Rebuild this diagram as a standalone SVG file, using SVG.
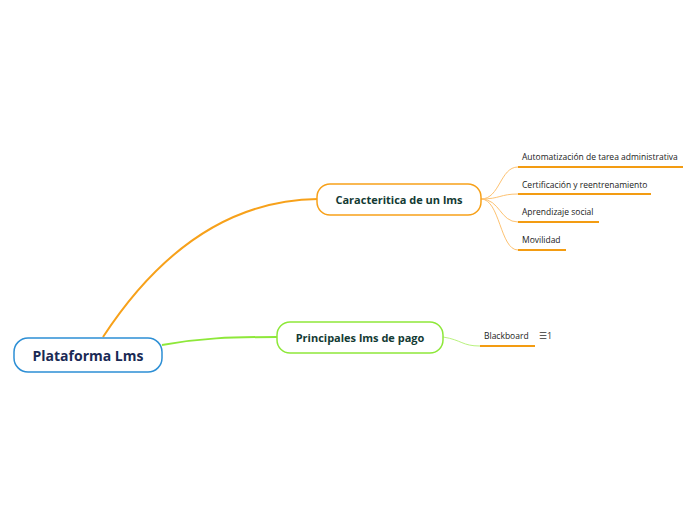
<svg xmlns="http://www.w3.org/2000/svg" width="696" height="520" viewBox="0 0 696 520">
<style>
text{font-family:"Open Sans","Noto Sans",sans-serif}
.sub{font-size:8.5px;fill:#222}
.ul{stroke:#f39c12;stroke-width:2;fill:none}
.lo{stroke:#fdc272;stroke-width:1;fill:none}
</style>
<rect width="696" height="520" fill="#fff"/>
<g id="connectors" fill="none">
<path d="M103,337 C160,250 230,200 318,199" stroke="#f7a11a" stroke-width="2"/>
<path d="M162,345 C200,338 230,337 277,337" stroke="#8ee83a" stroke-width="2"/>
<path d="M443,337 C462,340 462,346 480,346" stroke="#b9f27e" stroke-width="1"/>
<path class="lo" d="M481,199 C500,199 500,167 518,167"/>
<path class="lo" d="M481,199 C500,199 500,194 518,194"/>
<path class="lo" d="M481,199 C500,199 500,222 518,222"/>
<path class="lo" d="M481,199 C500,199 500,250 518,250"/>
</g>
<g id="root"><rect x="14" y="338" width="148" height="34" rx="14" fill="#fff" stroke="#2d8fd5" stroke-width="1.5"/>
<text x="88" y="361" text-anchor="middle" font-size="14" font-weight="bold" fill="#1a2a55">Plataforma Lms</text></g>
<g id="n1"><rect x="317" y="184" width="164" height="31" rx="13" fill="#fff" stroke="#f7a11a" stroke-width="1.5"/>
<text x="399" y="204" text-anchor="middle" font-size="11" font-weight="bold" fill="#133a33">Caracteritica de un lms</text></g>
<g id="n2"><rect x="277" y="322" width="166" height="31" rx="13" fill="#fff" stroke="#8ee83a" stroke-width="1.5"/>
<text x="360" y="342" text-anchor="middle" font-size="11" font-weight="bold" fill="#133a33">Principales lms de pago</text></g>
<g id="s1"><text class="sub" x="522" y="160">Automatización de  tarea administrativa</text><path class="ul" d="M518,167H683"/></g>
<g id="s2"><text class="sub" x="522" y="188">Certificación y reentrenamiento</text><path class="ul" d="M518,194H651"/></g>
<g id="s3"><text class="sub" x="522" y="215">Aprendizaje social</text><path class="ul" d="M518,222H599"/></g>
<g id="s4"><text class="sub" x="522" y="243">Movilidad</text><path class="ul" d="M518,250H566"/></g>
<g id="s5"><text class="sub" x="484" y="339">Blackboard</text><path class="ul" d="M480,346H535"/>
<text x="539" y="339" font-size="9" fill="#333">☰1</text></g>
</svg>
